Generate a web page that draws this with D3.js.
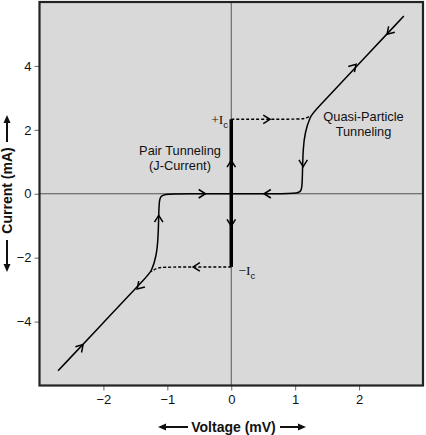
<!DOCTYPE html>
<html>
<head>
<meta charset="utf-8">
<script src="https://cdn.jsdelivr.net/npm/d3@7"></script>
<style>
  html, body { margin: 0; padding: 0; background: #fff; }
  svg { display: block; }
</style>
</head>
<body>
<svg id="chart" width="426" height="435"></svg>
<script>
// ---- data ----
const xDomain = [-3, 3];             // Voltage (mV)
const yDomain = [-6, 6];             // Current (mA)
const xTicks = [-2, -1, 0, 1, 2];
const yTicks = [-4, -2, 0, 2, 4];

// quasi-particle branch, positive side (V, I), starting at origin
const quasiPosV = [0, 0.7, 1.07, 1.11, 1.115, 1.125, 1.15, 1.24, 1.30, 1.90, 2.70];
const quasiPosI = [0, 0, 0, 0.15, 0.8, 1.4, 1.9, 2.45, 2.578, 3.856, 5.56];
// quasi-particle branch, negative side
const quasiNegV = [0, -0.7, -1.08, -1.13, -1.135, -1.145, -1.17, -1.25, -1.31, -1.90, -2.71];
const quasiNegI = [0, 0, 0, -0.15, -0.8, -1.4, -1.95, -2.44, -2.567, -3.82, -5.54];
// switching (dashed) at critical current
const switchPosV = [0, 1.05, 1.17, 1.24];
const switchPosI = [2.33, 2.33, 2.35, 2.45];
const switchNegV = [0, -1.05, -1.17, -1.25];
const switchNegI = [-2.29, -2.29, -2.32, -2.44];
// pair tunneling (zero-voltage) branch
const pairV = [0, 0];
const pairI = [2.33, -2.29];

// direction arrows: position and direction (data units)
const arrowV  = [1.92, 2.47, 1.125, 0.56, 0.56, 0, 0, -0.45, -1.135, -0.55, -1.44, -2.35];
const arrowI  = [3.98, 5.06, 0.94, 0, 2.33, 0.95, -0.92, 0, -0.77, -2.29, -2.91, -4.79];
const arrowDV = [1, -1, 0, -1, 1, 0, 0, 1, 0, -1, -1, 1];
const arrowDI = [2.13, -2.13, -1, 0, 0, 1, -1, 0, 1, 0, -2.12, 2.12];

// labels
const xTitle = "Voltage (mV)";
const yTitle = "Current (mA)";
const pairLabel = ["Pair Tunneling", "(J-Current)"];
const quasiLabel = ["Quasi-Particle", "Tunneling"];

// ---- layout ----
const W = 426, H = 435;
const plot = { left: 39.5, top: 2, right: 423, bottom: 385.5 };

const svg = d3.select("#chart");
const x = d3.scaleLinear().domain(xDomain).range([plot.left, plot.right]);
const y = d3.scaleLinear().domain(yDomain).range([plot.bottom, plot.top]);

// background
svg.append("rect")
  .attr("x", plot.left).attr("y", plot.top)
  .attr("width", plot.right - plot.left).attr("height", plot.bottom - plot.top)
  .attr("fill", "#d9d9d9");

// zero lines
svg.append("line")
  .attr("x1", x(0)).attr("x2", x(0)).attr("y1", plot.top).attr("y2", plot.bottom)
  .attr("stroke", "#555").attr("stroke-width", 1);
svg.append("line")
  .attr("x1", plot.left).attr("x2", plot.right).attr("y1", y(0)).attr("y2", y(0))
  .attr("stroke", "#555").attr("stroke-width", 1);

// axes
const fmt = d3.format("d");
const xAxis = d3.axisBottom(x).tickValues(xTicks).tickFormat(fmt).tickSize(5).tickPadding(4);
const yAxis = d3.axisLeft(y).tickValues(yTicks).tickFormat(fmt).tickSize(5).tickPadding(3);
const gx = svg.append("g").attr("transform", `translate(0,${plot.bottom})`).call(xAxis);
const gy = svg.append("g").attr("transform", `translate(${plot.left},0)`).call(yAxis);
[gx, gy].forEach(g => {
  g.select(".domain").remove();
  g.selectAll(".tick line").attr("stroke", "#666").attr("stroke-width", 1);
  g.selectAll(".tick text")
    .attr("fill", "#111")
    .style("font-family", "'Liberation Sans', Arial, sans-serif")
    .style("font-size", "13px");
});

// curves
const line = d3.line().x(d => x(d[0])).y(d => y(d[1])).curve(d3.curveBasis);
const zipVI = (V, I) => V.map((v, i) => [v, I[i]]);

svg.append("path").datum(zipVI(quasiPosV, quasiPosI))
  .attr("d", line).attr("fill", "none").attr("stroke", "#000").attr("stroke-width", 1.5);
svg.append("path").datum(zipVI(quasiNegV, quasiNegI))
  .attr("d", line).attr("fill", "none").attr("stroke", "#000").attr("stroke-width", 1.5);
svg.append("path").datum(zipVI(switchPosV, switchPosI))
  .attr("d", line).attr("fill", "none").attr("stroke", "#000").attr("stroke-width", 1.4)
  .attr("stroke-dasharray", "3,2");
svg.append("path").datum(zipVI(switchNegV, switchNegI))
  .attr("d", line).attr("fill", "none").attr("stroke", "#000").attr("stroke-width", 1.4)
  .attr("stroke-dasharray", "3,2");
svg.append("path").datum(zipVI(pairV, pairI))
  .attr("d", d3.line().x(d => x(d[0])).y(d => y(d[1])))
  .attr("fill", "none").attr("stroke", "#000").attr("stroke-width", 3.5);

// arrowheads (open chevrons)
const L = 8, A = 32 * Math.PI / 180;
arrowV.forEach((v, i) => {
  const px = x(v), py = y(arrowI[i]);
  const sx = x(v + arrowDV[i]) - x(v);
  const sy = y(arrowI[i] + arrowDI[i]) - y(arrowI[i]);
  const th = Math.atan2(sy, sx);
  const tipX = px + 3 * Math.cos(th), tipY = py + 3 * Math.sin(th);
  const p1 = [tipX - L * Math.cos(th - A), tipY - L * Math.sin(th - A)];
  const p2 = [tipX - L * Math.cos(th + A), tipY - L * Math.sin(th + A)];
  svg.append("path")
    .attr("d", `M${p1[0]},${p1[1]}L${tipX},${tipY}L${p2[0]},${p2[1]}`)
    .attr("fill", "none").attr("stroke", "#000").attr("stroke-width", 1.5)
    .attr("stroke-linejoin", "miter");
});

// plot border
svg.append("rect")
  .attr("x", plot.left).attr("y", plot.top)
  .attr("width", plot.right - plot.left).attr("height", plot.bottom - plot.top)
  .attr("fill", "none").attr("stroke", "#222").attr("stroke-width", 2.2);

// annotation labels
const sans = "'Liberation Sans', Arial, sans-serif";
const serif = "'Liberation Serif', 'Times New Roman', serif";
function multi(lines, cx, by, lh) {
  const t = svg.append("text").attr("text-anchor", "middle")
    .style("font-family", sans).style("font-size", "12.8px").attr("fill", "#111");
  lines.forEach((s, k) => t.append("tspan").attr("x", cx).attr("y", by + k * lh).text(s));
}
multi(pairLabel, 180, 155, 14.5);
multi(quasiLabel, 363.5, 121, 14.5);

function icLabel(sign, xEnd, by, anchor) {
  const t = svg.append("text").attr("text-anchor", anchor).attr("x", xEnd).attr("y", by)
    .attr("fill", "#111");
  t.append("tspan").style("font-family", serif).style("font-size", "13.5px").text(sign + "I");
  t.append("tspan").style("font-family", sans).style("font-size", "9.5px").attr("dy", 4).text("c");
}
icLabel("+", 228, 124, "end");
icLabel("\u2212", 238.5, 275, "start");

// axis titles with arrows
function arrowLine(x1, y1, x2, y2) {
  const th = Math.atan2(y2 - y1, x2 - x1), hl = 8, hw = 3.5;
  const bx = x2 - hl * Math.cos(th), by = y2 - hl * Math.sin(th);
  svg.append("line").attr("x1", x1).attr("y1", y1).attr("x2", bx).attr("y2", by)
    .attr("stroke", "#111").attr("stroke-width", 2);
  svg.append("path")
    .attr("d", `M${x2},${y2}L${bx - hw * Math.sin(th)},${by + hw * Math.cos(th)}L${bx + hw * Math.sin(th)},${by - hw * Math.cos(th)}Z`)
    .attr("fill", "#111");
}
// x title
svg.append("text").attr("x", 233.5).attr("y", 432).attr("text-anchor", "middle")
  .style("font-family", sans).style("font-size", "14px").style("font-weight", "bold")
  .attr("fill", "#111").text(xTitle);
arrowLine(188, 427, 158, 427);
arrowLine(280, 427, 306, 427);
// y title
svg.append("text").attr("transform", "translate(12,190.5) rotate(-90)").attr("text-anchor", "middle")
  .style("font-family", sans).style("font-size", "14px").style("font-weight", "bold")
  .attr("fill", "#111").text(yTitle);
arrowLine(7, 142, 7, 115);
arrowLine(7, 240, 7, 272);
</script>
</body>
</html>
